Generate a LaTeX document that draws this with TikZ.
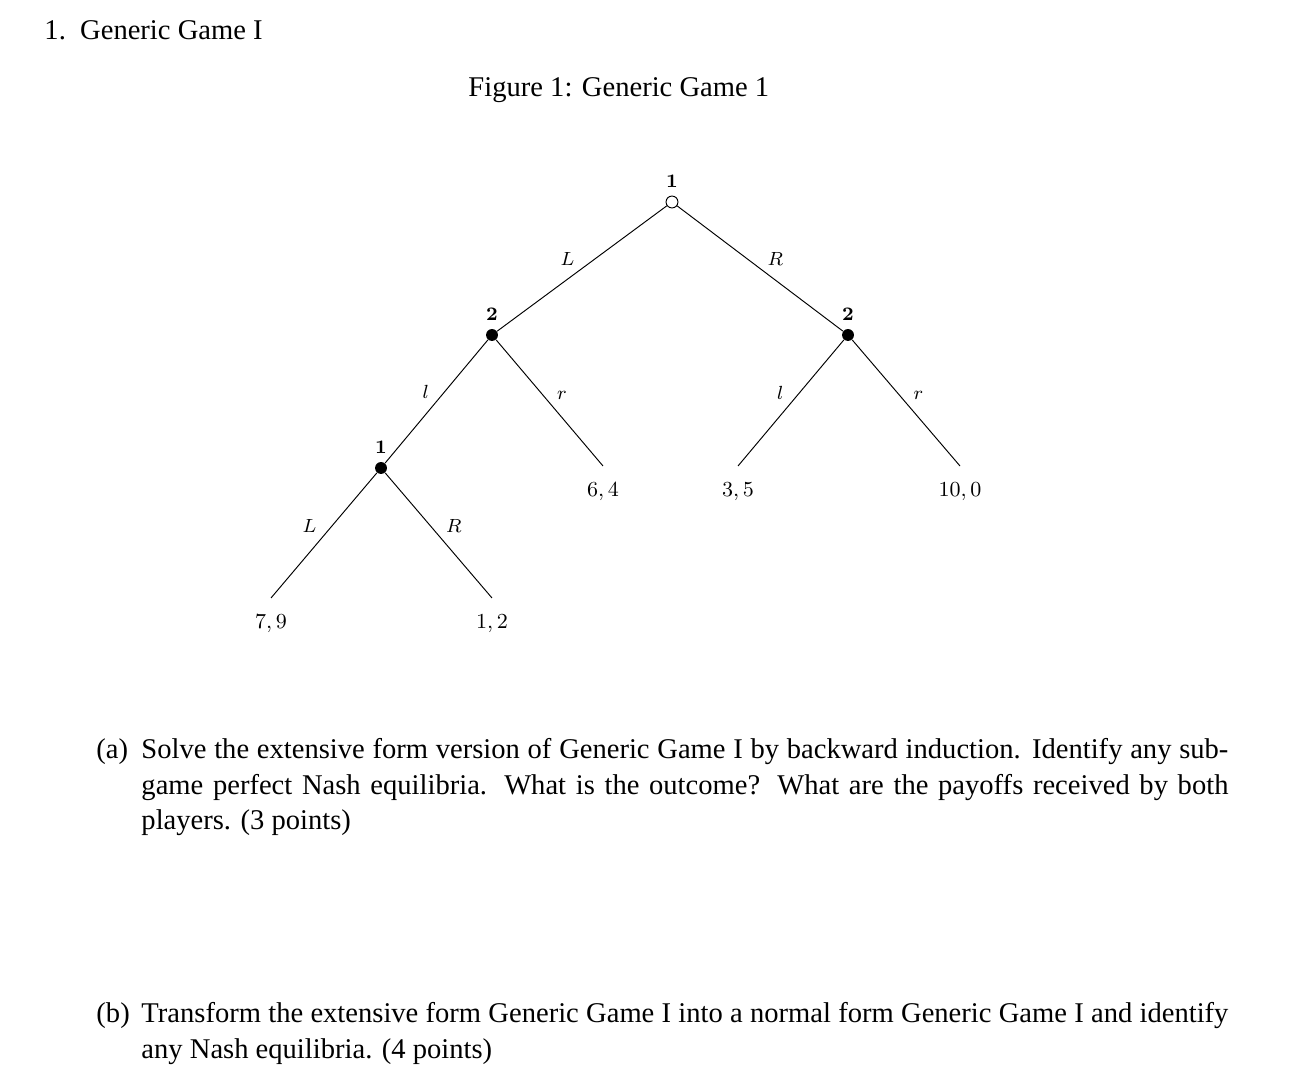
\documentclass[tikz,border=0pt]{standalone}
\usepackage{fontspec}
\usetikzlibrary{positioning}
\newfontfamily\timesfont{Liberation Serif}
\tikzset{
  decision/.style={circle, fill=black, inner sep=0pt, minimum size=5pt},
  rootnode/.style={circle, draw, fill=white, inner sep=0pt, minimum size=5pt},
  player/.style={font=\fontsize{8}{9}\selectfont\bfseries, inner sep=1pt, label distance=2.2pt},
  edgelbl/.style={font=\fontsize{8}{9}\selectfont, inner sep=3pt, yshift=-1.8pt},
  payoff/.style={font=\fontsize{9}{10}\selectfont, inner sep=1pt},
  body/.style={font=\timesfont\fontsize{12}{14.9}\selectfont, inner sep=0pt}
}
\begin{document}
\begin{tikzpicture}[x=0.42pt,y=-0.42pt]
            \useasboundingbox (0,0) rectangle (1300,1086);
            \node[body, anchor=base west] (head) at (44,40) {1.\hspace{6pt}Generic Game I};
            \node[body, anchor=base west] (caption) at (468,97) {Figure 1: Generic Game 1};
            % game tree
            \node[rootnode, label={[player]above:1}] (n0) at (672,202) {};
            \node[decision, label={[player]above:2}] (n1) at (492,335) {};
            \node[decision, label={[player]above:2}] (n2) at (848,335) {};
            \node[decision, label={[player]above:1}] (n3) at (381,468) {};
            \coordinate (t1) at (271,598);
            \coordinate (t2) at (492,598);
            \coordinate (t3) at (603,466);
            \coordinate (t4) at (738,466);
            \coordinate (t5) at (960,466);
            \node[payoff, below=6pt of t1] (p1) {$7,9$};
            \node[payoff, below=6pt of t2] (p2) {$1,2$};
            \node[payoff, below=6pt of t3] (p3) {$6,4$};
            \node[payoff, below=6pt of t4] (p4) {$3,5$};
            \node[payoff, below=6pt of t5] (p5) {$10,0$};
            \draw (n0) -- node[edgelbl, above left] {$L$} (n1);
            \draw (n0) -- node[edgelbl, above right] {$R$} (n2);
            \draw (n1) -- node[edgelbl, above left] {$l$} (n3);
            \draw (n1) -- node[edgelbl, above right] {$r$} (t3);
            \draw (n2) -- node[edgelbl, above left] {$l$} (t4);
            \draw (n2) -- node[edgelbl, above right] {$r$} (t5);
            \draw (n3) -- node[edgelbl, above left] {$L$} (t1);
            \draw (n3) -- node[edgelbl, above right] {$R$} (t2);
            % questions
            \node[body, anchor=base west] (qa) at (96,759) {(a)};
            \node[body, anchor=base west, text width=456.5pt, align=justify] (ta) at (141,759)
              {Solve the extensive form version of Generic Game I by backward induction. Identify any sub-\linebreak
               game perfect Nash equilibria. What is the outcome? What are the payoffs received by both\linebreak
               players. (3 points)};
            \node[body, anchor=base west] (qb) at (96,1023) {(b)};
            \node[body, anchor=base west, text width=456.5pt, align=justify] (tb) at (141,1023)
              {Transform the extensive form Generic Game I into a normal form Generic Game I and identify\linebreak
               any Nash equilibria. (4 points)};
\end{tikzpicture}
\end{document}
